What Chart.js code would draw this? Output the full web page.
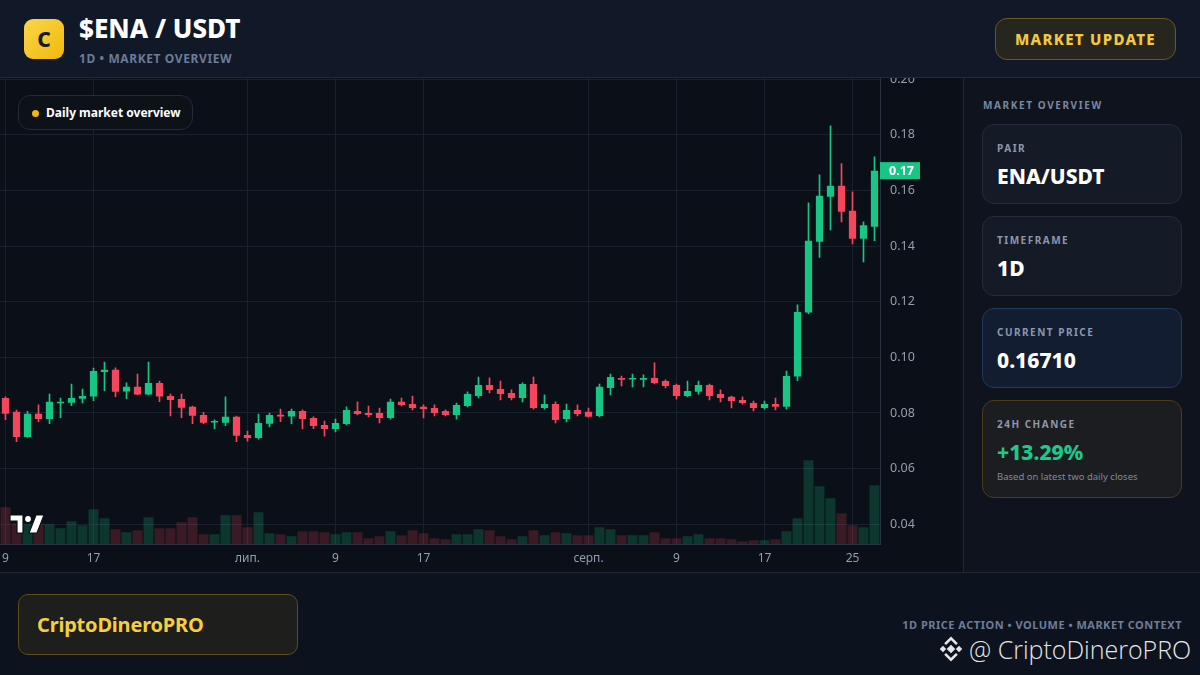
<!DOCTYPE html>
<html lang="uk">
<head>
<meta charset="utf-8">
<title>$ENA / USDT</title>
<script src="https://cdn.jsdelivr.net/npm/chart.js@4.4.1/dist/chart.umd.min.js"></script>
<style>
  * { box-sizing: border-box; margin: 0; padding: 0; }
  body { width: 1200px; height: 675px; overflow: hidden; background: #0d131e; font-family: "Noto Sans", "Open Sans", sans-serif; position: relative; }
  .header { position: absolute; left: 0; top: 0; width: 1200px; height: 78px; background: #111827; border-bottom: 1px solid #222a38; z-index: 3; }
  .logo { position: absolute; left: 24px; top: 19px; width: 40px; height: 40px; border-radius: 9px; background: linear-gradient(135deg, #fbd54a, #f0b90b); color: #151a24; font-weight: 800; font-size: 21px; display: flex; align-items: center; justify-content: center; }
  .title { position: absolute; left: 79px; top: 12px; color: #fff; font-size: 26px; font-weight: 800; line-height: 32px; }
  .subtitle { position: absolute; left: 79px; top: 51px; color: #6b7b99; font-size: 12px; font-weight: 700; letter-spacing: 0.6px; line-height: 16px; }
  .badge { position: absolute; left: 995px; top: 18px; width: 181px; height: 42px; border: 1px solid #6a5820; border-radius: 12px; background: #26261f; color: #f5c842; font-weight: 800; font-size: 15px; letter-spacing: 1.3px; display: flex; align-items: center; justify-content: center; }
  .chart-wrap { position: absolute; left: 0; top: 60px; width: 963px; height: 512px; background: #0b0f17; z-index: 1; }
  .pill { position: absolute; left: 18px; top: 95px; width: 175px; height: 35px; border: 1px solid #242a36; border-radius: 12px; background: #0d1118; z-index: 2; color: #fff; font-size: 12px; font-weight: 700; line-height: 33px; padding-left: 27px; }
  .pill::before { content: ""; position: absolute; left: 13px; top: 14px; width: 7px; height: 7px; border-radius: 50%; background: #f0b90b; }
  .tv { position: absolute; left: 9px; top: 514px; z-index: 2; }
  .sidebar { position: absolute; left: 963px; top: 78px; width: 237px; height: 494px; background: #0e131e; border-left: 1px solid #1f2735; }
  .side-title { position: absolute; left: 983px; top: 98px; color: #7c889e; font-size: 10px; font-weight: 700; letter-spacing: 1.6px; line-height: 14px; }
  .card { position: absolute; left: 982px; width: 200px; border: 1px solid #232c3b; border-radius: 12px; background: #141b27; }
  .card .lbl { position: absolute; left: 14px; top: 16px; color: #8d97ab; font-size: 10px; font-weight: 700; letter-spacing: 1.5px; line-height: 14px; }
  .card .val { position: absolute; left: 14px; top: 37px; color: #fff; font-size: 21px; font-weight: 800; line-height: 28px; }
  .card .note { position: absolute; left: 14px; top: 69px; color: #7f8aa0; font-size: 9.5px; line-height: 14px; }
  .card.blue { border-color: #1f3a5f; background: #121d31; }
  .card.gold { border-color: #4a3d17; background: #1b1d20; }
  .footer { position: absolute; left: 0; top: 572px; width: 1200px; height: 103px; background: #0d131e; border-top: 1px solid #1f2735; }
  .brand { position: absolute; left: 18px; top: 594px; width: 280px; height: 61px; border: 1px solid #5e4c17; border-radius: 10px; background: #1e1e1c; color: #f5cf40; font-size: 20px; font-weight: 700; line-height: 59px; padding-left: 18px; letter-spacing: -0.2px; }
  .foot-note { position: absolute; right: 18px; top: 617px; color: #6d7d99; font-size: 11px; font-weight: 700; letter-spacing: 0.5px; line-height: 15px; }
  .mark { position: absolute; left: 936px; top: 633px; display: flex; align-items: center; color: #e6e6e6; font-family: "Open Sans", sans-serif; font-weight: 300; font-size: 25px; line-height: 32px; }
  .mark svg { margin-right: 3px; }
</style>
</head>
<body>
<div class="header">
  <div class="logo">C</div>
  <div class="title">$ENA / USDT</div>
  <div class="subtitle">1D • MARKET OVERVIEW</div>
  <div class="badge">MARKET UPDATE</div>
</div>

<div class="chart-wrap"><canvas id="candleChart"></canvas></div>
<div class="pill">Daily market overview</div>
<svg class="tv" width="36" height="20" viewBox="0 0 36 20">
  <g fill="#fff" stroke="#0b0f17" stroke-width="1.2">
    <path d="M1 1 H14 V19 H8 V7 H1 Z"/>
    <circle cx="19" cy="5" r="3.5"/>
    <path d="M27 1 H35 L28 19 H20 Z"/>
  </g>
</svg>

<div class="sidebar"></div>
<div class="side-title">MARKET OVERVIEW</div>
<div class="card" style="top:124px;height:80px"><div class="lbl">PAIR</div><div class="val">ENA/USDT</div></div>
<div class="card" style="top:216px;height:80px"><div class="lbl">TIMEFRAME</div><div class="val">1D</div></div>
<div class="card blue" style="top:308px;height:80px"><div class="lbl">CURRENT PRICE</div><div class="val">0.16710</div></div>
<div class="card gold" style="top:400px;height:98px"><div class="lbl">24H CHANGE</div><div class="val" style="color:#1fc98a">+13.29%</div><div class="note">Based on latest two daily closes</div></div>

<div class="footer"></div>
<div class="brand">CriptoDineroPRO</div>
<div class="foot-note">1D PRICE ACTION • VOLUME • MARKET CONTEXT</div>
<div class="mark">
  <svg width="30" height="30" viewBox="0 0 28 28" fill="#e6e6e6">
    <polygon points="14,10 18,14 14,18 10,14"/>
    <polygon points="3.5,14 6.5,11 9.5,14 6.5,17"/>
    <polygon points="18.5,14 21.5,11 24.5,14 21.5,17"/>
    <polyline points="8.5,9.5 14,4 19.5,9.5" fill="none" stroke="#e6e6e6" stroke-width="2.4"/>
    <polyline points="8.5,18.5 14,24 19.5,18.5" fill="none" stroke="#e6e6e6" stroke-width="2.4"/>
  </svg>
  <span>@ CriptoDineroPRO</span>
</div>

<script>
// Daily candles, 9 Jun – 27 Aug
const firstDay = new Date(Date.UTC(2025, 5, 9));
const dates = [];
for (let i = 0; i < 80; i++) {
  const d = new Date(firstDay.getTime() + i * 86400000);
  dates.push(d.toISOString().slice(0, 10));
}

const opens = [
  0.0854, 0.0804, 0.0714, 0.0797, 0.0778, 0.0835, 0.0837, 0.0851, 0.0859, 0.0947,
  0.0955, 0.0877, 0.0894, 0.0866, 0.0908, 0.0861, 0.0850, 0.0822, 0.0793, 0.0766,
  0.0765, 0.0786, 0.0721, 0.0710, 0.0761, 0.0794, 0.0787, 0.0807, 0.0782, 0.0757,
  0.0742, 0.0760, 0.0807, 0.0800, 0.0800, 0.0782, 0.0840, 0.0832, 0.0822, 0.0818,
  0.0807, 0.0793, 0.0825, 0.0861, 0.0901, 0.0886, 0.0872, 0.0854, 0.0904, 0.0818,
  0.0832, 0.0778, 0.0811, 0.0804, 0.0789, 0.0890, 0.0926, 0.0920, 0.0919, 0.0926,
  0.0915, 0.0901, 0.0861, 0.0876, 0.0901, 0.0868, 0.0858, 0.0847, 0.0836, 0.0818,
  0.0832, 0.0822, 0.0931, 0.1161, 0.1415, 0.1577, 0.1617, 0.1527, 0.1426, 0.1469
];
const highs = [
  0.0858, 0.0810, 0.0806, 0.0829, 0.0868, 0.0854, 0.0904, 0.0886, 0.0961, 0.0983,
  0.0962, 0.0908, 0.0940, 0.0983, 0.0915, 0.0868, 0.0868, 0.0825, 0.0802, 0.0775,
  0.0858, 0.0789, 0.0735, 0.0796, 0.0800, 0.0814, 0.0814, 0.0811, 0.0786, 0.0771,
  0.0778, 0.0822, 0.0840, 0.0825, 0.0818, 0.0850, 0.0854, 0.0861, 0.0829, 0.0829,
  0.0811, 0.0836, 0.0876, 0.0929, 0.0926, 0.0915, 0.0883, 0.0908, 0.0929, 0.0865,
  0.0840, 0.0832, 0.0829, 0.0818, 0.0904, 0.0940, 0.0933, 0.0940, 0.0937, 0.0980,
  0.0919, 0.0904, 0.0915, 0.0915, 0.0904, 0.0883, 0.0861, 0.0858, 0.0843, 0.0843,
  0.0854, 0.0951, 0.1189, 0.1555, 0.1656, 0.1832, 0.1696, 0.1595, 0.1487, 0.1721
];
const lows = [
  0.0776, 0.0697, 0.0712, 0.0769, 0.0762, 0.0783, 0.0826, 0.0836, 0.0844, 0.0880,
  0.0859, 0.0851, 0.0865, 0.0865, 0.0841, 0.0789, 0.0783, 0.0762, 0.0762, 0.0744,
  0.0754, 0.0697, 0.0699, 0.0706, 0.0750, 0.0769, 0.0762, 0.0744, 0.0744, 0.0717,
  0.0732, 0.0757, 0.0793, 0.0786, 0.0764, 0.0778, 0.0825, 0.0811, 0.0782, 0.0789,
  0.0789, 0.0778, 0.0822, 0.0854, 0.0872, 0.0847, 0.0847, 0.0840, 0.0814, 0.0814,
  0.0764, 0.0768, 0.0789, 0.0785, 0.0786, 0.0865, 0.0897, 0.0894, 0.0894, 0.0904,
  0.0890, 0.0850, 0.0858, 0.0868, 0.0847, 0.0840, 0.0818, 0.0832, 0.0807, 0.0814,
  0.0811, 0.0814, 0.0916, 0.1157, 0.1359, 0.1458, 0.1487, 0.1408, 0.1343, 0.1419
];
const closes = [
  0.0797, 0.0714, 0.0797, 0.0778, 0.0840, 0.0838, 0.0854, 0.0861, 0.0951, 0.0955,
  0.0876, 0.0894, 0.0866, 0.0908, 0.0859, 0.0847, 0.0819, 0.0790, 0.0765, 0.0768,
  0.0786, 0.0718, 0.0710, 0.0764, 0.0793, 0.0787, 0.0807, 0.0778, 0.0753, 0.0742,
  0.0764, 0.0811, 0.0796, 0.0793, 0.0782, 0.0840, 0.0829, 0.0818, 0.0814, 0.0800,
  0.0793, 0.0829, 0.0868, 0.0901, 0.0883, 0.0868, 0.0854, 0.0904, 0.0818, 0.0832,
  0.0775, 0.0811, 0.0796, 0.0786, 0.0894, 0.0929, 0.0919, 0.0923, 0.0926, 0.0908,
  0.0897, 0.0861, 0.0879, 0.0901, 0.0861, 0.0854, 0.0843, 0.0836, 0.0818, 0.0832,
  0.0822, 0.0933, 0.1163, 0.1419, 0.1581, 0.1617, 0.1523, 0.1426, 0.1475, 0.1671
];
// volume, millions
const volumes = [
  185, 105, 100, 105, 100, 80, 115, 95, 175, 130,
  75, 60, 70, 135, 80, 80, 110, 135, 50, 50,
  145, 145, 85, 160, 55, 50, 40, 65, 65, 60,
  50, 60, 60, 30, 40, 65, 45, 70, 55, 30,
  25, 50, 50, 75, 70, 40, 25, 40, 70, 45,
  60, 55, 45, 45, 85, 75, 45, 45, 45, 60,
  30, 30, 40, 50, 30, 30, 25, 15, 20, 20,
  25, 65, 130, 420, 290, 230, 155, 95, 85, 295
];

const priceTicks = [0.04, 0.06, 0.08, 0.10, 0.12, 0.14, 0.16, 0.18, 0.20];
const dateTickDays = ['2025-06-09', '2025-06-17', '2025-07-01', '2025-07-09', '2025-07-17', '2025-08-01', '2025-08-09', '2025-08-17', '2025-08-25'];
const dateTickTexts = ['9', '17', 'лип.', '9', '17', 'серп.', '9', '17', '25'];

const upColor = '#17c685';
const downColor = '#f6465d';
const gridColor = '#1b212c';
const axisColor = '#2a3140';
const tickColor = '#969eac';

const candleColors = opens.map((o, i) => closes[i] >= o ? upColor : downColor);
const volumeColors = opens.map((o, i) => closes[i] >= o ? 'rgba(23,198,133,0.22)' : 'rgba(246,70,93,0.2)');

function dateTickText(index) {
  const k = dateTickDays.indexOf(dates[index]);
  return k >= 0 ? dateTickTexts[k] : '';
}

// price tag on the right axis for the latest close
const lastPriceTag = {
  id: 'lastPriceTag',
  afterDraw(chart) {
    const last = closes[closes.length - 1];
    const y = chart.scales.y.getPixelForValue(last);
    const x = chart.chartArea.right;
    const ctx = chart.ctx;
    ctx.save();
    ctx.fillStyle = upColor;
    ctx.fillRect(x, y - 8.5, 40, 17);
    ctx.fillStyle = '#ffffff';
    ctx.font = 'bold 12.5px "Noto Sans"';
    ctx.textBaseline = 'middle';
    ctx.fillText(last.toFixed(2), x + 9, y + 0.5);
    ctx.restore();
  }
};

const ctx = document.getElementById('candleChart').getContext('2d');
const candleChart = new Chart(ctx, {
  type: 'bar',
  data: {
    labels: dates,
    datasets: [
      {
        label: 'Body',
        data: opens.map((o, i) => [o, closes[i]]),
        backgroundColor: candleColors,
        yAxisID: 'y',
        grouped: false,
        barPercentage: 0.66,
        categoryPercentage: 1,
        minBarLength: 1.5
      },
      {
        label: 'Wick',
        data: lows.map((l, i) => [l, highs[i]]),
        backgroundColor: candleColors,
        yAxisID: 'y',
        grouped: false,
        barThickness: 1
      },
      {
        label: 'Volume',
        data: volumes,
        backgroundColor: volumeColors,
        yAxisID: 'vol',
        grouped: false,
        barPercentage: 0.91,
        categoryPercentage: 1
      }
    ]
  },
  options: {
    responsive: true,
    maintainAspectRatio: false,
    animation: false,
    layout: { padding: { top: 18, left: 0, right: 0, bottom: 0 } },
    plugins: {
      legend: { display: false },
      tooltip: { enabled: false }
    },
    scales: {
      x: {
        offset: true,
        grid: {
          offset: false,
          drawTicks: false,
          color: c => dateTickText(c.index) ? gridColor : 'rgba(0,0,0,0)'
        },
        border: { color: axisColor },
        ticks: {
          autoSkip: false,
          maxRotation: 0,
          padding: 7,
          color: tickColor,
          font: { family: 'Noto Sans', size: 12 },
          callback: (v, i) => dateTickText(i)
        },
        afterFit: s => { s.height = 27.7; s.paddingLeft = 0; s.paddingRight = 0; }
      },
      y: {
        position: 'right',
        min: 0.0328,
        max: 0.2004,
        afterBuildTicks: s => { s.ticks = priceTicks.map(v => ({ value: v })); },
        grid: { color: gridColor, drawTicks: false },
        border: { color: axisColor },
        ticks: {
          padding: 10,
          color: tickColor,
          font: { family: 'Noto Sans', size: 12.5 },
          callback: v => v.toFixed(2)
        },
        afterFit: s => { s.width = 83; }
      },
      vol: {
        display: false,
        min: 0,
        max: 2330
      }
    }
  },
  plugins: [lastPriceTag]
});
</script>
</body>
</html>
